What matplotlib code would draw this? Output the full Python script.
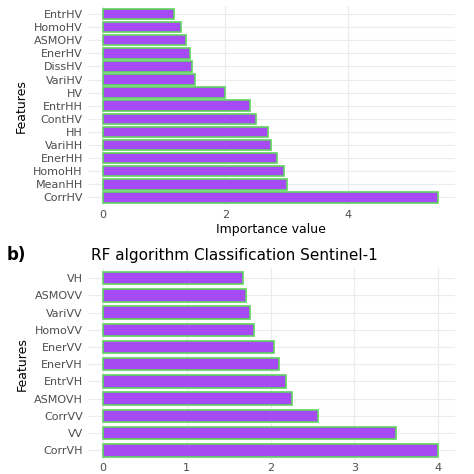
import matplotlib.pyplot as plt

# panel a features, top to bottom
feat_a = ['EntrHV', 'HomoHV', 'ASMOHV', 'EnerHV', 'DissHV', 'VariHV', 'HV', 'EntrHH',
          'ContHV', 'HH', 'VariHH', 'EnerHH', 'HomoHH', 'MeanHH', 'CorrHV']
imp_a = [1.16, 1.27, 1.36, 1.42, 1.45, 1.5, 2.0, 2.4, 2.5, 2.7, 2.75, 2.85, 2.95, 3.0, 5.47]

feat_b = ['VH', 'ASMOVV', 'VariVV', 'HomoVV', 'EnerVV', 'EnerVH', 'EntrVH', 'ASMOVH',
          'CorrVV', 'VV', 'CorrVH']
imp_b = [1.67, 1.71, 1.75, 1.8, 2.04, 2.1, 2.18, 2.26, 2.57, 3.5, 4.0]

fill = '#a64bf4'
edge = '#5fd35f'


def style(ax):
    for s in ax.spines.values():
        s.set_visible(False)
    ax.grid(True, color='#ebebeb', linewidth=0.8)
    ax.set_axisbelow(True)
    ax.tick_params(length=0, labelsize=8, colors='#4d4d4d')
    ax.set_ylabel('Features', fontsize=9)


fig = plt.figure(figsize=(4.74, 4.74), dpi=100)

ax1 = fig.add_axes([0.185, 0.567, 0.775, 0.42])
ax1.barh(range(len(feat_a)), imp_a, height=0.8, color=fill, edgecolor=edge, linewidth=1.2)
ax1.set_yticks(range(len(feat_a)))
ax1.set_yticklabels(feat_a)
ax1.set_ylim(len(feat_a) - 0.4, -0.6)
ax1.set_xlim(-0.25, 5.75)
ax1.set_xticks([0, 2, 4])
ax1.set_xlabel('Importance value', fontsize=9, labelpad=2)
style(ax1)

ax2 = fig.add_axes([0.185, 0.03, 0.775, 0.405])
ax2.barh(range(len(feat_b)), imp_b, height=0.72, color=fill, edgecolor=edge, linewidth=1.2)
ax2.set_yticks(range(len(feat_b)))
ax2.set_yticklabels(feat_b)
ax2.set_ylim(len(feat_b) - 0.45, -0.6)
ax2.set_xlim(-0.18, 4.2)
ax2.set_xticks([0, 1, 2, 3, 4])
style(ax2)
ax2.tick_params(axis='x', pad=2)
ax2.text(-0.22, 1.04, 'b)', transform=ax2.transAxes, fontsize=12, fontweight='bold')
ax2.text(0.01, 1.04, 'RF algorithm Classification Sentinel-1', transform=ax2.transAxes, fontsize=11)

fig.savefig('out.png', dpi=100)
